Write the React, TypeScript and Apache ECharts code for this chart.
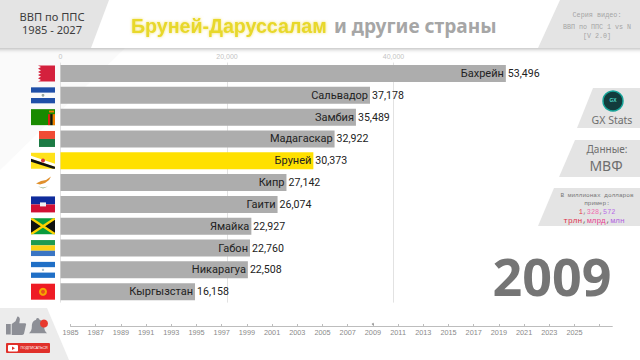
import React, { useEffect, useRef } from "react";
import * as echarts from "echarts";

const countries = ["Бахрейн", "Сальвадор", "Замбия", "Мадагаскар", "Бруней", "Кипр", "Гаити", "Ямайка", "Габон", "Никарагуа", "Кыргызстан"];
const gdp = [53496, 37178, 35489, 32922, 30373, 27142, 26074, 22927, 22760, 22508, 16158];
const highlighted = "Бруней";
const years = Array.from({ length: 44 }, (_, i) => String(1985 + i));
const hiddenYears = ["2027", "2028"];
const currentYear = "2009";
const timeMarker = [[23.55, 0.33]];

type S = any;
const r = (x: number, y: number, w: number, h: number, fill: string): S => ({ type: "rect", shape: { x, y, width: w, height: h }, style: { fill } });
const p = (points: number[][], fill: string): S => ({ type: "polygon", shape: { points }, style: { fill } });
const c = (cx: number, cy: number, rad: number, fill: string): S => ({ type: "circle", shape: { cx, cy, r: rad }, style: { fill } });

// Flags in local units: 24 x 16 box, origin at the flag's top-left corner
const flags: Record<string, S[]> = {
  "Бахрейн": [p([[7, 0], [24, 0], [24, 16], [7, 16], [10, 14.4], [7, 12.8], [10, 11.2], [7, 9.6], [10, 8], [7, 6.4], [10, 4.8], [7, 3.2], [10, 1.6]], "#d4213d")],
  "Сальвадор": [r(0, 0, 24, 5.3, "#1f4fa8"), r(0, 10.7, 24, 5.3, "#1f4fa8"), c(12, 8, 1.4, "#9aa7a0")],
  "Замбия": [r(0, 0, 24, 16, "#198a00"), r(17, 5, 2.4, 11, "#de2010"), r(19.4, 5, 2.3, 11, "#111111"), r(21.7, 5, 2.3, 11, "#ef7d00"), r(18, 1.5, 5, 1.8, "#ef7d00")],
  "Мадагаскар": [r(8, 0, 16, 8, "#f04b35"), r(8, 8, 16, 8, "#1c7a44")],
  "Бруней": [r(0, 0, 24, 16, "#ffe21a"), p([[0, 3], [24, 11], [24, 14], [0, 6]], "#ffffff"), p([[0, 6], [24, 14], [24, 16], [22, 16], [0, 9]], "#111111"), c(12, 7.8, 2, "#d8383a")],
  "Кипр": [p([[5, 9], [10, 6.5], [15, 5.5], [20, 2], [18, 5.5], [14, 8.5], [9, 10]], "#e0902c"), p([[7, 12], [12, 14], [17, 12], [12, 13]], "#9bb58c")],
  "Гаити": [r(0, 0, 24, 8, "#0f2b9b"), r(0, 8, 24, 8, "#d21034"), r(9, 6, 6, 4, "#f2f2f2")],
  "Ямайка": [r(0, 0, 24, 16, "#0a9a3c"), p([[0, 1], [10, 8], [0, 15]], "#111111"), p([[24, 1], [14, 8], [24, 15]], "#111111"), p([[0, 0], [2, 0], [24, 14.6], [24, 16], [22, 16], [0, 1.4]], "#fed100"), p([[22, 0], [24, 0], [24, 1.4], [2, 16], [0, 16], [0, 14.6]], "#fed100")],
  "Габон": [r(0, 0, 24, 5.3, "#1f9a50"), r(0, 5.3, 24, 5.4, "#fcd116"), r(0, 10.7, 24, 5.3, "#3a75c4")],
  "Никарагуа": [r(0, 0, 24, 5.3, "#1f6fc6"), r(0, 10.7, 24, 5.3, "#1f6fc6"), c(12, 8, 1.2, "#a8c0cf")],
  "Кыргызстан": [r(0, 0, 24, 16, "#ee1c25"), c(12, 8, 4, "#f7a600"), c(12, 8, 2, "#e8501a")],
};

const thumbPath = "M0 8H5V19H0ZM6 8L10 5L12 0C14 0 15 2 14.5 4L14 7H20C21 7 21.500 8 21 9L19 18C18.800 19 18 19.500 17 19.500H6Z";
const bellPath = "M9 0C10 0 11 1 11 2C15 3 16 6 16 10C16 14 17 16 19 18H0C2 16 3 14 3 10C3 6 4 3 7.500 2C7.500 1 8 0 9 0Z";

const mono = "'Liberation Mono', monospace";
const sans = "'Liberation Sans', sans-serif";
const round = "'Noto Sans', sans-serif";
const barFont = "Roboto, sans-serif";

export default function App() {
  const ref = useRef<HTMLDivElement>(null);
  useEffect(() => {
    echarts.graphic.registerShape("thumb", echarts.graphic.extendPath(thumbPath as any, {}) as any);
    echarts.graphic.registerShape("bell", echarts.graphic.extendPath(bellPath as any, {}) as any);
    const chart = echarts.init(ref.current!, undefined, { renderer: "svg" });
    const panel = "#e4e4e4";
    const txt = (x: number, y: number, text: string, fontSize: number, fill: string, fontFamily: string, extra: S = {}): S => ({
      type: "text", x, y, z: 20,
      style: { text, fontSize, fill, fontFamily, textAlign: "center", textVerticalAlign: "middle", ...extra },
    });
    const poly = (points: number[][], fill: string, z = 10): S => ({ type: "polygon", z, shape: { points }, style: { fill } });
    chart.setOption({
      animation: false,
      backgroundColor: "#ffffff",
      grid: [
        { left: 60.5, top: 62.6, width: 499.5, height: 240, containLabel: false },
        { left: 70.5, top: 320, width: 541.8, height: 6 },
      ],
      xAxis: [
        {
          type: "value", gridIndex: 0, position: "top", min: 0, max: 60000, interval: 20000,
          axisLine: { show: false }, axisTick: { show: false },
          axisLabel: { color: "#c4c4c4", fontSize: 7, fontFamily: sans, margin: 3, showMaxLabel: false, formatter: (v: number) => v.toLocaleString("en-US") },
          splitLine: { show: true, showMaxLine: false, lineStyle: { color: "#e2e2e2", width: 1 } },
        },
        {
          type: "category", gridIndex: 1, data: years, boundaryGap: false, position: "bottom",
          axisLine: { show: true, lineStyle: { color: "#bdbdbd", width: 1 } },
          axisTick: { show: true, inside: true, length: 2, interval: 1, lineStyle: { color: "#bdbdbd" } },
          axisLabel: { show: true, interval: 1, color: "#8a8a8a", fontSize: 7.3, fontFamily: sans, margin: 3, formatter: (v: string) => (hiddenYears.includes(v) ? "" : v) },
        },
      ],
      yAxis: [
        { type: "category", gridIndex: 0, data: countries, inverse: true, axisLine: { show: false }, axisTick: { show: false }, axisLabel: { show: false } },
        { type: "value", gridIndex: 1, min: 0, max: 1, show: false },
      ],
      series: [
        {
          type: "bar", xAxisIndex: 0, yAxisIndex: 0, barWidth: 17, z: 3,
          data: gdp.map((v, i) => ({ value: v, itemStyle: { color: countries[i] === highlighted ? "#ffe000" : "#adadad" } })),
          label: { show: true, position: "insideRight", distance: 2, color: "#222222", fontSize: 11, fontFamily: barFont, formatter: (o: any) => o.name },
        },
        {
          type: "bar", xAxisIndex: 0, yAxisIndex: 0, barWidth: 17, barGap: "-100%", z: 4,
          data: gdp, itemStyle: { color: "transparent" },
          label: { show: true, position: "right", distance: 2, color: "#222222", fontSize: 10.6, fontFamily: barFont, formatter: (o: any) => Number(o.value).toLocaleString("en-US") },
        },
        {
          type: "custom", xAxisIndex: 0, yAxisIndex: 0, z: 5, clip: false,
          data: countries.map((_, i) => [0, i]),
          renderItem: (_: any, api: any) => {
            const [x, y] = api.coord([api.value(0), api.value(1)]);
            const name = countries[api.value(1)];
            return { type: "group", x: x - 29.5, y: y - 8, children: flags[name] };
          },
        },
        {
          type: "scatter", xAxisIndex: 1, yAxisIndex: 1, data: timeMarker, symbol: "circle", symbolSize: 2,
          itemStyle: { color: "#8a8a8a" }, silent: true, clip: false,
        },
      ],
      graphic: [
        { type: "group", silent: true, children: [
          poly([[0, 48], [125, 48], [0, 170]], "#fafafa", -10),
          { type: "rect", z: 5, shape: { x: -10, y: -10, width: 660, height: 58 }, style: { fill: "#ffffff", shadowBlur: 4, shadowColor: "rgba(0,0,0,0.3)", shadowOffsetY: 1 } },
          poly([[0, 0], [109, 0], [91, 48], [0, 48]], panel),
          poly([[560, 0], [640, 0], [640, 48], [538, 48]], panel),
          txt(52, 16, "ВВП по ППС", 11.1, "#3d3d3d", round),
          txt(52, 29.5, "1985 - 2027", 11.1, "#3d3d3d", round),
          { type: "text", x: 131, y: 26, z: 20, style: { text: "Бруней-Даруссалам", fontSize: 19.6, fontWeight: "bold", fill: "#e8d82c", fontFamily: sans, textAlign: "left", textVerticalAlign: "middle", textShadowColor: "rgba(230,200,0,0.6)", textShadowBlur: 3 } },
          { type: "text", x: 334, y: 26, z: 20, style: { text: "и другие страны", fontSize: 19.1, fontWeight: "bold", fill: "#a6a6a6", fontFamily: round, textAlign: "left", textVerticalAlign: "middle" } },
          txt(597, 15, "Серия видео:", 6.8, "#a4a4a4", mono),
          txt(597, 27, "ВВП по ППС 1 vs N", 6.7, "#a4a4a4", mono),
          txt(597, 36, "[V 2.0]", 6.7, "#a4a4a4", mono),
          poly([[593, 88], [640, 88], [640, 128], [577, 128]], panel),
          { type: "circle", z: 20, shape: { cx: 613, cy: 101, r: 10 }, style: { fill: "#123c3c", stroke: "#17a59a", lineWidth: 1.5 } },
          txt(613, 100, "GX", 5, "#4fd8c8", sans, { fontWeight: "bold" }),
          txt(612, 120, "GX Stats", 10.5, "#6e6e6e", round),
          poly([[575, 140], [640, 140], [640, 177], [559, 177]], panel),
          txt(607, 149, "Данные:", 10, "#6e6e6e", round),
          txt(606, 165, "МВФ", 14, "#6e6e6e", round),
          poly([[554, 188], [640, 188], [640, 226], [538, 226]], panel),
          txt(597, 195, "В миллионах долларов", 6.1, "#777777", mono),
          txt(597, 203, "пример:", 6.1, "#777777", mono),
          txt(597, 212, "{a|1},{b|328},{c|572}", 6.8, "#888888", mono, { rich: {
            a: { fill: "#e23b4e", fontSize: 6.8, fontFamily: mono },
            b: { fill: "#f06ab0", fontSize: 6.8, fontFamily: mono },
            c: { fill: "#b86be8", fontSize: 6.8, fontFamily: mono },
          } }),
          txt(594, 220, "{a|трлн},{b|млрд},{c|млн}", 7.9, "#666666", mono, { rich: {
            a: { fill: "#e0304a", fontSize: 7.9, fontFamily: mono },
            b: { fill: "#e8408e", fontSize: 7.9, fontFamily: mono },
            c: { fill: "#b060e0", fontSize: 7.9, fontFamily: mono },
          } }),
          poly([[0, 308], [47, 308], [69, 360], [0, 360]], "#ececec"),
          { type: "thumb", x: 6, y: 316.5, scaleX: 0.95, scaleY: 0.95, z: 20, style: { fill: "#8d8f96" } },
          { type: "bell", x: 29, y: 318, scaleX: 0.95, scaleY: 0.85, z: 20, style: { fill: "#8d8f96" } },
          { type: "circle", z: 21, shape: { cx: 44, cy: 323.5, r: 4 }, style: { fill: "#e8392e" } },
          txt(44, 323.5, "!", 5.5, "#ffffff", sans, { fontWeight: "bold" }),
          { type: "rect", z: 20, shape: { x: 6, y: 343, width: 44, height: 10, r: 1 }, style: { fill: "#e0302a" } },
          { type: "rect", z: 21, shape: { x: 8, y: 345, width: 10, height: 6.5, r: 1 }, style: { fill: "#ffffff" } },
          { type: "polygon", z: 22, shape: { points: [[12, 346.5], [15, 348.2], [12, 350]] }, style: { fill: "#e0302a" } },
          txt(34, 348.2, "ПОДПИСАТЬСЯ", 3.6, "#ffffff", sans),
          { type: "text", x: 552, y: 275.5, z: 20, style: { text: currentYear, fontSize: 52, fontWeight: "bold", fill: "#757575", fontFamily: "'Open Sans', sans-serif", textAlign: "center", textVerticalAlign: "middle" } },
        ] },
      ],
    });
    return () => chart.dispose();
  }, []);
  return <div ref={ref} style={{ position: "fixed", left: 0, top: 0, width: 640, height: 360 }} />;
}
